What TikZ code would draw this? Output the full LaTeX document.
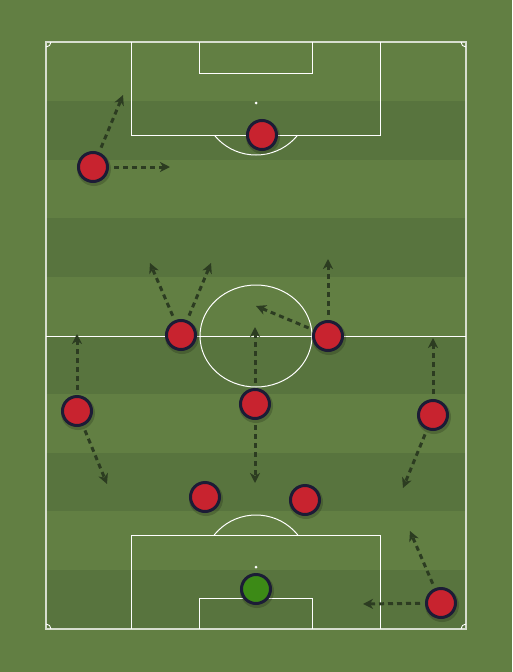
\documentclass[tikz,border=0pt]{standalone}
\usetikzlibrary{arrows.meta}
\definecolor{grassL}{RGB}{98,127,67}
\definecolor{grassD}{RGB}{88,116,62}
\definecolor{runC}{RGB}{44,60,33}
\definecolor{shirtR}{RGB}{200,35,47}
\definecolor{shirtG}{RGB}{60,138,22}
\definecolor{rim}{RGB}{28,28,54}
\tikzset{
  pline/.style={draw=white,line width=1pt},
  player/.style={circle,draw=rim,line width=3pt,fill=shirtR,minimum size=29pt,inner sep=0pt},
  keeper/.style={player,fill=shirtG},
  run/.style={draw=runC,line width=3pt,dash pattern=on 5pt off 4pt,shorten <=5pt,-{Stealth[length=10pt,width=10pt,inset=3pt]}},
}
\begin{document}
\begin{tikzpicture}[x=1pt,y=-1pt]
\useasboundingbox (0,0) rectangle (512,672);
\fill[grassL] (0,0) rectangle (512,672);
% stripes
\foreach \a/\b in {101/160,218/277,336/394,453/511,570/629}
  \fill[grassD] (46,\a) rectangle (466,\b);
% outline
\draw[pline,line width=1.6pt,draw opacity=0.75] (46,42) rectangle (466,629);
\draw[pline] (46,336) -- (466,336);
\draw[pline] (256,336) ellipse [x radius=56,y radius=51];
\fill[white] (256,336) circle (1.3);
% top area
\draw[pline] (131,42) -- (131,135) -- (380,135) -- (380,42);
\draw[pline] (199,42) -- (199,73) -- (312,73) -- (312,42);
\fill[white] (256,103) circle (1.5);
\begin{scope}
\clip (100,135) rectangle (420,200);
\draw[pline] (256,103) ellipse [x radius=53,y radius=52];
\end{scope}
% bottom area
\draw[pline] (131,629) -- (131,535) -- (380,535) -- (380,629);
\draw[pline] (199,629) -- (199,598) -- (312,598) -- (312,629);
\fill[white] (256,567) circle (1.5);
\begin{scope}
\clip (100,535) rectangle (420,480);
\draw[pline] (256,567) ellipse [x radius=53,y radius=52];
\end{scope}
% corners
\draw[pline,line width=0.9pt] (51,42) arc[start angle=0,end angle=90,radius=5];
\draw[pline,line width=0.9pt] (461,42) arc[start angle=180,end angle=90,radius=5];
\draw[pline,line width=0.9pt] (51,629) arc[start angle=0,end angle=-90,radius=5];
\draw[pline,line width=0.9pt] (461,629) arc[start angle=180,end angle=270,radius=5];
% run end points
\coordinate (e1a) at (123,95);
\coordinate (e1b) at (170,167);
\coordinate (e3a) at (150,263);
\coordinate (e3b) at (211,263);
\coordinate (e4a) at (256,306);
\coordinate (e4b) at (328,259);
\coordinate (e5a) at (255,327);
\coordinate (e5b) at (255,483);
\coordinate (e6a) at (77,334);
\coordinate (e6b) at (107,484);
\coordinate (e7a) at (433,338);
\coordinate (e7b) at (403,488);
\coordinate (e10a) at (410,531);
\coordinate (e10b) at (363,604);
% shadows
\foreach \x/\y in {93/167,262/135,181/335,328/336,255/404,77/411,433/415,205/497,305/500,441/603,256/589}
  \fill[black,opacity=0.18] (\x+1,\y+2) circle (17);
% players
\node[player] (p1) at (93,167) {};
\node[player] (p2) at (262,135) {};
\node[player] (p3) at (181,335) {};
\node[player] (p4) at (328,336) {};
\node[player] (p5) at (255,404) {};
\node[player] (p6) at (77,411) {};
\node[player] (p7) at (433,415) {};
\node[player] (p8) at (205,497) {};
\node[player] (p9) at (305,500) {};
\node[player] (p10) at (441,603) {};
\node[keeper] (gk) at (256,589) {};
% runs
\draw[run] (p1) -- (e1a);
\draw[run] (p1) -- (e1b);
\draw[run] (p3) -- (e3a);
\draw[run] (p3) -- (e3b);
\draw[run] (p4) -- (e4a);
\draw[run] (p4) -- (e4b);
\draw[run] (p5) -- (e5a);
\draw[run] (p5) -- (e5b);
\draw[run] (p6) -- (e6a);
\draw[run] (p6) -- (e6b);
\draw[run] (p7) -- (e7a);
\draw[run] (p7) -- (e7b);
\draw[run] (p10) -- (e10a);
\draw[run] (p10) -- (e10b);
\end{tikzpicture}
\end{document}
